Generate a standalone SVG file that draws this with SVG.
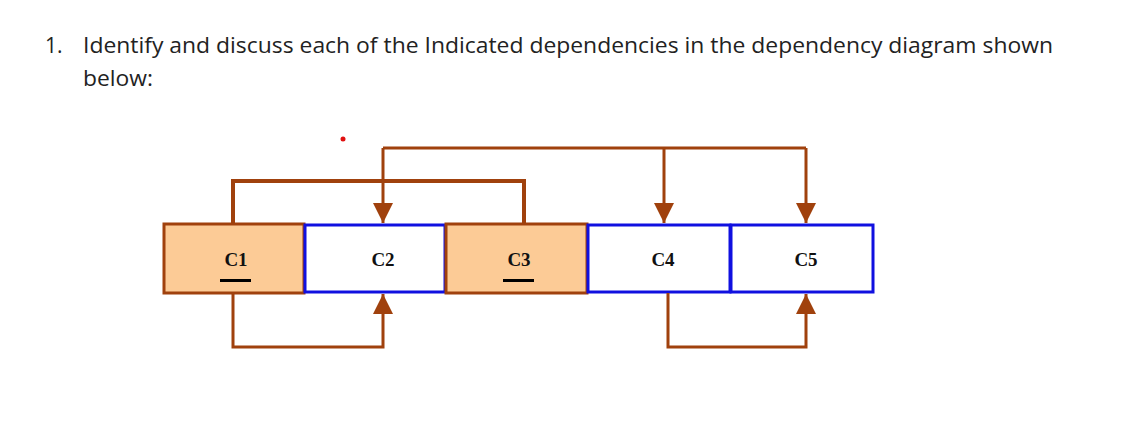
<svg xmlns="http://www.w3.org/2000/svg" width="1134" height="430" viewBox="0 0 1134 430">
<style>
.t{font-family:"Open Sans","Liberation Sans",sans-serif;font-size:21px;fill:#222}
.l{font-family:"Liberation Serif",serif;font-size:19px;font-weight:bold;fill:#111;text-anchor:middle}
.k{fill:#fccb96;stroke:#a0410d;stroke-width:3}
.n{fill:#fff;stroke:#1010e0;stroke-width:3}
.c{fill:none;stroke:#a0410d;stroke-width:3}
</style>
<defs>
<marker id="b" viewBox="0 0 20 20" refX="20" refY="10" markerWidth="20" markerHeight="20" orient="auto" markerUnits="userSpaceOnUse"><path d="M0,0L20,10L0,20z" fill="#a0410d"/></marker></defs>
<rect width="1134" height="430" fill="#fff"/>
<text class="t" x="45" y="53">1.</text>
<text class="t" x="83" y="53" textLength="970" lengthAdjust="spacingAndGlyphs">Identify and discuss each of the Indicated dependencies in the dependency diagram shown</text>
<text class="t" x="83" y="86" textLength="70" lengthAdjust="spacingAndGlyphs">below:</text>
<circle cx="343" cy="139" r="2.5" fill="#e01010"/>
<g id="C1"><rect class="k" x="164" y="224" width="140" height="69"/><text class="l" x="236" y="266">C1</text><rect x="220" y="279" width="31" height="3" fill="#000"/></g>
<g id="C2"><rect class="n" x="305" y="225" width="140" height="67"/><text class="l" x="383" y="266">C2</text></g>
<g id="C3"><rect class="k" x="446" y="224" width="141" height="69"/><text class="l" x="519" y="266">C3</text><rect x="503" y="279" width="31" height="3" fill="#000"/></g>
<g id="C4"><rect class="n" x="588" y="225" width="142" height="67"/><text class="l" x="663" y="266">C4</text></g>
<g id="C5"><rect class="n" x="731" y="225" width="142" height="67"/><text class="l" x="806" y="266">C5</text></g>
<g id="connectors">
<path class="c" style="stroke-width:4" d="M233,224V181H524V224"/>
<path class="c" d="M383,148H806"/>
<path class="c" d="M383,148V223" marker-end="url(#b)"/>
<path class="c" d="M664,148V223" marker-end="url(#b)"/>
<path class="c" d="M806,148V223" marker-end="url(#b)"/>
<path class="c" d="M233,293V347H383V294" marker-end="url(#b)"/>
<path class="c" d="M668,293V347H806V294" marker-end="url(#b)"/>
</g>
</svg>
